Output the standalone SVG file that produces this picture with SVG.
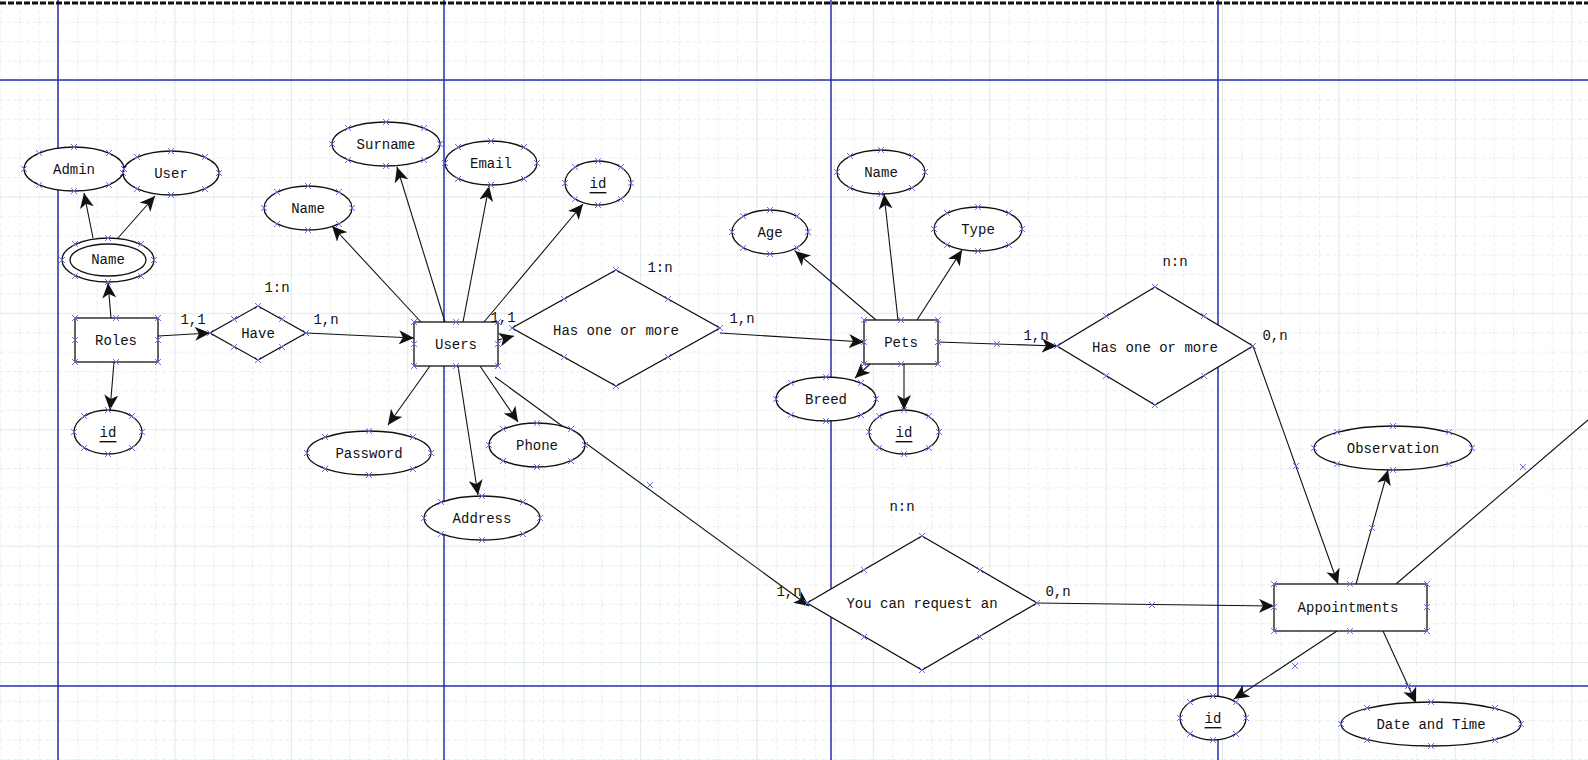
<svg xmlns="http://www.w3.org/2000/svg" xmlns:xlink="http://www.w3.org/1999/xlink" width="1588" height="760" viewBox="0 0 1588 760">
<style>
text{font-family:"Liberation Mono","DejaVu Sans Mono",monospace;font-size:14px;fill:#111;text-anchor:middle;dominant-baseline:central}
.s{fill:#fff;stroke:#111;stroke-width:1.3}
.c line{stroke:#111;stroke-width:1.1}
.c .a{marker-end:url(#ar)}
</style>
<defs>
<pattern id="mn" patternUnits="userSpaceOnUse" x="58" y="80" width="19.4" height="19.4"><path d="M0,0V19.4M0,0H19.4" fill="none" stroke="#cfe0e0" stroke-width="1" stroke-dasharray="4,3"/></pattern>
<pattern id="mj" patternUnits="userSpaceOnUse" x="58" y="80" width="116.4" height="116.4"><path d="M0,0V116.4M0,0H116.4" fill="none" stroke="#d4e4e4" stroke-width="1.2"/></pattern>
<marker id="ar" markerWidth="16" markerHeight="14" refX="15" refY="7" orient="auto" markerUnits="userSpaceOnUse"><path d="M0,0L15,7L0,14L4,7z" fill="#111"/></marker>
<path id="x" d="M-3,-3L3,3M-3,3L3,-3" stroke="#6a6af0" stroke-width="1"/>
</defs>
<rect width="1588" height="760" fill="#fff"/>
<rect width="1588" height="760" fill="url(#mn)"/>
<rect width="1588" height="760" fill="url(#mj)"/>
<g id="frame" stroke="#2a2ab0" stroke-width="1.5">
<line x1="58" y1="0" x2="58" y2="760"/><line x1="444" y1="0" x2="444" y2="760"/><line x1="831" y1="0" x2="831" y2="760"/><line x1="1218" y1="0" x2="1218" y2="760"/>
<line x1="0" y1="80" x2="1588" y2="80"/><line x1="0" y1="686" x2="1588" y2="686"/>
</g>
<line x1="0" y1="3" x2="1588" y2="3" stroke="#111" stroke-width="3" stroke-dasharray="6,2"/>
<g class="c" id="connectors">
<line class="a" x1="111" y1="318" x2="108" y2="283"/>
<line class="a" x1="93" y1="238" x2="84" y2="193"/>
<line class="a" x1="118" y1="238" x2="155" y2="196"/>
<line class="a" x1="114" y1="362" x2="110" y2="410"/>
<line class="a" x1="158" y1="336" x2="210" y2="333"/>
<line class="a" x1="306" y1="333" x2="414" y2="338"/>
<line class="a" x1="421" y1="322" x2="332" y2="226"/>
<line class="a" x1="445" y1="322" x2="397" y2="167"/>
<line class="a" x1="463" y1="322" x2="489" y2="186"/>
<line class="a" x1="484" y1="322" x2="583" y2="204"/>
<line class="a" x1="430" y1="366" x2="388" y2="425"/>
<line class="a" x1="458" y1="366" x2="478" y2="495"/>
<line class="a" x1="480" y1="366" x2="518" y2="422"/>
<line class="a" x1="498" y1="340" x2="514" y2="336"/>
<line class="a" x1="720" y1="333" x2="864" y2="342"/>
<line class="a" x1="495" y1="377" x2="809" y2="606"/>
<line class="a" x1="898" y1="320" x2="884" y2="194"/>
<line class="a" x1="917" y1="320" x2="962" y2="250"/>
<line class="a" x1="876" y1="320" x2="795" y2="251"/>
<line class="a" x1="870" y1="364" x2="855" y2="378"/>
<line class="a" x1="904" y1="364" x2="904" y2="410"/>
<line class="a" x1="938" y1="342" x2="1057" y2="346"/>
<line class="a" x1="1253" y1="346" x2="1338" y2="584"/>
<line class="a" x1="1037" y1="603" x2="1274" y2="606"/>
<line class="a" x1="1356" y1="584" x2="1388" y2="470"/>
<line class="a" x1="1337" y1="631" x2="1234" y2="699"/>
<line class="a" x1="1383" y1="631" x2="1416" y2="703"/>
<line x1="1396" y1="584" x2="1588" y2="420"/>
</g>
<g id="labels">
<text x="277" y="288">1:n</text><text x="193" y="320">1,1</text><text x="326" y="320">1,n</text>
<text x="660" y="268">1:n</text><text x="503" y="318">1,1</text><text x="742" y="319">1,n</text>
<text x="1175" y="262">n:n</text><text x="1036" y="336">1,n</text><text x="1275" y="336">0,n</text>
<text x="902" y="507">n:n</text><text x="789" y="592">1,n</text><text x="1058" y="592">0,n</text>
</g>
<g id="Roles"><rect class="s" x="75" y="318" width="83" height="44"/><text x="116" y="341">Roles</text></g>
<g id="RoleName"><ellipse class="s" cx="108" cy="260" rx="46" ry="22"/><ellipse class="s" cx="108" cy="260" rx="38" ry="16"/><text x="108" y="260">Name</text></g>
<g id="Admin"><ellipse class="s" cx="74" cy="169" rx="50" ry="22"/><text x="74" y="170">Admin</text></g>
<g id="User"><ellipse class="s" cx="171" cy="173" rx="48" ry="22"/><text x="171" y="174">User</text></g>
<g id="RoleId"><ellipse class="s" cx="108" cy="432" rx="34" ry="22"/><text x="108" y="433" text-decoration="underline">id</text></g>
<g id="Have"><polygon class="s" points="258,306 306,333 258,360 210,333"/><text x="258" y="334">Have</text></g>
<g id="Users"><rect class="s" x="414" y="322" width="84" height="44"/><text x="456" y="345">Users</text></g>
<g id="UName"><ellipse class="s" cx="308" cy="208" rx="44" ry="22"/><text x="308" y="209">Name</text></g>
<g id="Surname"><ellipse class="s" cx="386" cy="144" rx="54" ry="22"/><text x="386" y="145">Surname</text></g>
<g id="Email"><ellipse class="s" cx="491" cy="163" rx="46" ry="22"/><text x="491" y="164">Email</text></g>
<g id="UId"><ellipse class="s" cx="598" cy="183" rx="33" ry="22"/><text x="598" y="184" text-decoration="underline">id</text></g>
<g id="Password"><ellipse class="s" cx="369" cy="453" rx="62" ry="22"/><text x="369" y="454">Password</text></g>
<g id="Phone"><ellipse class="s" cx="537" cy="445" rx="48" ry="22"/><text x="537" y="446">Phone</text></g>
<g id="Address"><ellipse class="s" cx="482" cy="518" rx="58" ry="22"/><text x="482" y="519">Address</text></g>
<g id="Has1"><polygon class="s" points="616,270 720,328 616,386 512,328"/><text x="616" y="331">Has one or more</text></g>
<g id="Pets"><rect class="s" x="864" y="320" width="74" height="44"/><text x="901" y="343">Pets</text></g>
<g id="PName"><ellipse class="s" cx="881" cy="172" rx="44" ry="22"/><text x="881" y="173">Name</text></g>
<g id="Age"><ellipse class="s" cx="770" cy="232" rx="38" ry="22"/><text x="770" y="233">Age</text></g>
<g id="Type"><ellipse class="s" cx="978" cy="229" rx="44" ry="22"/><text x="978" y="230">Type</text></g>
<g id="Breed"><ellipse class="s" cx="826" cy="399" rx="50" ry="22"/><text x="826" y="400">Breed</text></g>
<g id="PId"><ellipse class="s" cx="904" cy="432" rx="35" ry="22"/><text x="904" y="433" text-decoration="underline">id</text></g>
<g id="Has2"><polygon class="s" points="1155,287 1253,346 1155,405 1057,346"/><text x="1155" y="348">Has one or more</text></g>
<g id="Request"><polygon class="s" points="922,536 1037,603 922,670 807,603"/><text x="922" y="604">You can request an</text></g>
<g id="Appointments"><rect class="s" x="1274" y="584" width="153" height="47"/><text x="1348" y="608">Appointments</text></g>
<g id="Observation"><ellipse class="s" cx="1393" cy="448" rx="79" ry="22"/><text x="1393" y="449">Observation</text></g>
<g id="AId"><ellipse class="s" cx="1213" cy="718" rx="33" ry="22"/><text x="1213" y="719" text-decoration="underline">id</text></g>
<g id="DateTime"><ellipse class="s" cx="1431" cy="724" rx="90" ry="22"/><text x="1431" y="725">Date and Time</text></g>
<g id="xmarks">
<use href="#x" x="24" y="169"/><use href="#x" x="124" y="169"/><use href="#x" x="74" y="147"/><use href="#x" x="74" y="191"/><use href="#x" x="39" y="153"/><use href="#x" x="109" y="153"/><use href="#x" x="39" y="185"/><use href="#x" x="109" y="185"/>
<use href="#x" x="123" y="173"/><use href="#x" x="219" y="173"/><use href="#x" x="171" y="151"/><use href="#x" x="171" y="195"/><use href="#x" x="137" y="157"/><use href="#x" x="205" y="157"/><use href="#x" x="137" y="189"/><use href="#x" x="205" y="189"/>
<use href="#x" x="62" y="260"/><use href="#x" x="154" y="260"/><use href="#x" x="108" y="238"/><use href="#x" x="108" y="282"/><use href="#x" x="75" y="244"/><use href="#x" x="141" y="244"/><use href="#x" x="75" y="276"/><use href="#x" x="141" y="276"/>
<use href="#x" x="74" y="432"/><use href="#x" x="142" y="432"/><use href="#x" x="108" y="410"/><use href="#x" x="108" y="454"/><use href="#x" x="84" y="416"/><use href="#x" x="132" y="416"/><use href="#x" x="84" y="448"/><use href="#x" x="132" y="448"/>
<use href="#x" x="264" y="208"/><use href="#x" x="352" y="208"/><use href="#x" x="308" y="186"/><use href="#x" x="308" y="230"/><use href="#x" x="277" y="192"/><use href="#x" x="339" y="192"/><use href="#x" x="277" y="224"/><use href="#x" x="339" y="224"/>
<use href="#x" x="332" y="144"/><use href="#x" x="440" y="144"/><use href="#x" x="386" y="122"/><use href="#x" x="386" y="166"/><use href="#x" x="348" y="128"/><use href="#x" x="424" y="128"/><use href="#x" x="348" y="160"/><use href="#x" x="424" y="160"/>
<use href="#x" x="445" y="163"/><use href="#x" x="537" y="163"/><use href="#x" x="491" y="141"/><use href="#x" x="491" y="185"/><use href="#x" x="458" y="147"/><use href="#x" x="524" y="147"/><use href="#x" x="458" y="179"/><use href="#x" x="524" y="179"/>
<use href="#x" x="565" y="183"/><use href="#x" x="631" y="183"/><use href="#x" x="598" y="161"/><use href="#x" x="598" y="205"/><use href="#x" x="575" y="167"/><use href="#x" x="621" y="167"/><use href="#x" x="575" y="199"/><use href="#x" x="621" y="199"/>
<use href="#x" x="307" y="453"/><use href="#x" x="431" y="453"/><use href="#x" x="369" y="431"/><use href="#x" x="369" y="475"/><use href="#x" x="325" y="437"/><use href="#x" x="413" y="437"/><use href="#x" x="325" y="469"/><use href="#x" x="413" y="469"/>
<use href="#x" x="489" y="445"/><use href="#x" x="585" y="445"/><use href="#x" x="537" y="423"/><use href="#x" x="537" y="467"/><use href="#x" x="503" y="429"/><use href="#x" x="571" y="429"/><use href="#x" x="503" y="461"/><use href="#x" x="571" y="461"/>
<use href="#x" x="424" y="518"/><use href="#x" x="540" y="518"/><use href="#x" x="482" y="496"/><use href="#x" x="482" y="540"/><use href="#x" x="441" y="502"/><use href="#x" x="523" y="502"/><use href="#x" x="441" y="534"/><use href="#x" x="523" y="534"/>
<use href="#x" x="837" y="172"/><use href="#x" x="925" y="172"/><use href="#x" x="881" y="150"/><use href="#x" x="881" y="194"/><use href="#x" x="850" y="156"/><use href="#x" x="912" y="156"/><use href="#x" x="850" y="188"/><use href="#x" x="912" y="188"/>
<use href="#x" x="732" y="232"/><use href="#x" x="808" y="232"/><use href="#x" x="770" y="210"/><use href="#x" x="770" y="254"/><use href="#x" x="743" y="216"/><use href="#x" x="797" y="216"/><use href="#x" x="743" y="248"/><use href="#x" x="797" y="248"/>
<use href="#x" x="934" y="229"/><use href="#x" x="1022" y="229"/><use href="#x" x="978" y="207"/><use href="#x" x="978" y="251"/><use href="#x" x="947" y="213"/><use href="#x" x="1009" y="213"/><use href="#x" x="947" y="245"/><use href="#x" x="1009" y="245"/>
<use href="#x" x="776" y="399"/><use href="#x" x="876" y="399"/><use href="#x" x="826" y="377"/><use href="#x" x="826" y="421"/><use href="#x" x="791" y="383"/><use href="#x" x="861" y="383"/><use href="#x" x="791" y="415"/><use href="#x" x="861" y="415"/>
<use href="#x" x="869" y="432"/><use href="#x" x="939" y="432"/><use href="#x" x="904" y="410"/><use href="#x" x="904" y="454"/><use href="#x" x="879" y="416"/><use href="#x" x="929" y="416"/><use href="#x" x="879" y="448"/><use href="#x" x="929" y="448"/>
<use href="#x" x="1314" y="448"/><use href="#x" x="1472" y="448"/><use href="#x" x="1393" y="426"/><use href="#x" x="1393" y="470"/><use href="#x" x="1337" y="432"/><use href="#x" x="1449" y="432"/><use href="#x" x="1337" y="464"/><use href="#x" x="1449" y="464"/>
<use href="#x" x="1180" y="718"/><use href="#x" x="1246" y="718"/><use href="#x" x="1213" y="696"/><use href="#x" x="1213" y="740"/><use href="#x" x="1190" y="702"/><use href="#x" x="1236" y="702"/><use href="#x" x="1190" y="734"/><use href="#x" x="1236" y="734"/>
<use href="#x" x="1341" y="724"/><use href="#x" x="1521" y="724"/><use href="#x" x="1431" y="702"/><use href="#x" x="1431" y="746"/><use href="#x" x="1367" y="708"/><use href="#x" x="1495" y="708"/><use href="#x" x="1367" y="740"/><use href="#x" x="1495" y="740"/>
<use href="#x" x="75" y="318"/><use href="#x" x="116" y="318"/><use href="#x" x="158" y="318"/><use href="#x" x="75" y="340"/><use href="#x" x="158" y="340"/><use href="#x" x="75" y="362"/><use href="#x" x="116" y="362"/><use href="#x" x="158" y="362"/>
<use href="#x" x="414" y="322"/><use href="#x" x="456" y="322"/><use href="#x" x="498" y="322"/><use href="#x" x="414" y="344"/><use href="#x" x="498" y="344"/><use href="#x" x="414" y="366"/><use href="#x" x="456" y="366"/><use href="#x" x="498" y="366"/>
<use href="#x" x="864" y="320"/><use href="#x" x="901" y="320"/><use href="#x" x="938" y="320"/><use href="#x" x="864" y="342"/><use href="#x" x="938" y="342"/><use href="#x" x="864" y="364"/><use href="#x" x="901" y="364"/><use href="#x" x="938" y="364"/>
<use href="#x" x="1274" y="584"/><use href="#x" x="1350" y="584"/><use href="#x" x="1427" y="584"/><use href="#x" x="1274" y="607"/><use href="#x" x="1427" y="607"/><use href="#x" x="1274" y="631"/><use href="#x" x="1350" y="631"/><use href="#x" x="1427" y="631"/>
<use href="#x" x="258" y="306"/><use href="#x" x="306" y="333"/><use href="#x" x="258" y="360"/><use href="#x" x="210" y="333"/><use href="#x" x="234" y="319"/><use href="#x" x="282" y="319"/><use href="#x" x="234" y="347"/><use href="#x" x="282" y="347"/>
<use href="#x" x="616" y="270"/><use href="#x" x="720" y="328"/><use href="#x" x="616" y="386"/><use href="#x" x="512" y="328"/><use href="#x" x="564" y="299"/><use href="#x" x="668" y="299"/><use href="#x" x="564" y="357"/><use href="#x" x="668" y="357"/>
<use href="#x" x="1155" y="287"/><use href="#x" x="1253" y="346"/><use href="#x" x="1155" y="405"/><use href="#x" x="1057" y="346"/><use href="#x" x="1106" y="316"/><use href="#x" x="1204" y="316"/><use href="#x" x="1106" y="376"/><use href="#x" x="1204" y="376"/>
<use href="#x" x="922" y="536"/><use href="#x" x="1037" y="603"/><use href="#x" x="922" y="670"/><use href="#x" x="807" y="603"/><use href="#x" x="864" y="570"/><use href="#x" x="980" y="570"/><use href="#x" x="864" y="637"/><use href="#x" x="980" y="637"/>
<use href="#x" x="1152" y="605"/><use href="#x" x="1296" y="466"/><use href="#x" x="1523" y="467"/><use href="#x" x="650" y="485"/><use href="#x" x="997" y="344"/><use href="#x" x="1372" y="528"/><use href="#x" x="1295" y="666"/><use href="#x" x="1408" y="686"/>
</g>
</svg>
